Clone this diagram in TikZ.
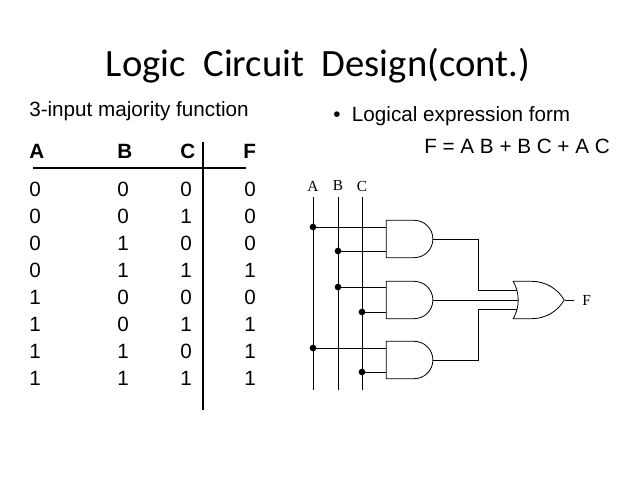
\documentclass[tikz,border=0pt]{standalone}
\usepackage{fontspec}
\setmainfont{Liberation Sans}
\newfontfamily\titlefont{Carlito}
\newfontfamily\serif{Liberation Serif}
\usetikzlibrary{shapes.gates.logic.US}
\begin{document}
\begin{tikzpicture}[x=0.75pt,y=-0.75pt,
  txt/.style={inner sep=0,anchor=west,font=\fontsize{15.5}{17}\selectfont},
  hd/.style={txt,font=\fontsize{15.5}{17}\selectfont\bfseries},
  w/.style={line width=0.6pt},
  dot/.style={circle,fill,inner sep=0,minimum size=5pt},
  gt/.style={draw,line width=0.6pt,minimum width=30pt,minimum height=28pt,inner sep=0},
  lbl/.style={font=\serif\fontsize{11.5}{13}\selectfont,inner sep=0}]
\useasboundingbox (0,0) rectangle (638,478);
\node (title) at (318,66) {\titlefont\fontsize{29}{32}\selectfont Logic\ \ Circuit\ \ Design(cont.)};
\node[txt] (sub) at (29,111) {3-input majority function};
\node[txt] (bul) at (333,116) {\textbullet\ \ Logical expression form};
\node[txt] (expr) at (424,146) {F = A B + B C + A C};
% table
\node[hd] (hA) at (29,151) {A};
\node[hd] (hB) at (117,151) {B};
\node[hd] (hC) at (180,151) {C};
\node[hd] (hF) at (243,151) {F};
\coordinate (l1) at (33,168); \coordinate (l2) at (246,168);
\coordinate (v1) at (203,142); \coordinate (v2) at (203,410);
\draw[line width=1.4pt] (l1) -- (l2);
\draw[line width=1.4pt] (v1) -- (v2);
\foreach \a/\b/\c/\f [count=\i from 0] in {0/0/0/0,0/0/1/0,0/1/0/0,0/1/1/1,1/0/0/0,1/0/1/1,1/1/0/1,1/1/1/1}{
  \node[txt] (ra\i) at (29,{189+27*\i}) {\a};
  \node[txt] (rb\i) at (117,{189+27*\i}) {\b};
  \node[txt] (rc\i) at (180,{189+27*\i}) {\c};
  \node[txt] (rf\i) at (244,{189+27*\i}) {\f};
}
% circuit
\node[lbl] (LA) at (313,186) {A};
\node[lbl] (LB) at (338,186) {B};
\node[lbl] (LC) at (362,186) {C};
\foreach \n/\x in {A/313,B/338,C/362}{
  \coordinate (t\n) at (\x,197); \coordinate (b\n) at (\x,390);
  \draw[w] (t\n) -- (b\n);
}
\node[and gate US,gt] (g1) at (408,239) {};
\node[and gate US,gt] (g2) at (408,300) {};
\node[and gate US,gt] (g3) at (408,360) {};
\node[or gate US,gt,logic gate inputs=nnn] (g4) at (535,300) {};
\coordinate (d1) at (313,227); \coordinate (d2) at (338,251);
\coordinate (d3) at (338,287); \coordinate (d4) at (362,312);
\coordinate (d5) at (313,348); \coordinate (d6) at (362,372);
\node[dot] at (d1) {};\node[dot] at (d2) {};\node[dot] at (d3) {};
\node[dot] at (d4) {};\node[dot] at (d5) {};\node[dot] at (d6) {};
\draw[w] (d1) -- (d1 -| g1.input 1);
\draw[w] (d2) -- (d2 -| g1.input 2);
\draw[w] (d3) -- (d3 -| g2.input 1);
\draw[w] (d4) -- (d4 -| g2.input 2);
\draw[w] (d5) -- (d5 -| g3.input 1);
\draw[w] (d6) -- (d6 -| g3.input 2);
\coordinate (k1) at (478,0);
\draw[w] (g1.output) -| (k1 |- g4.input 1) -- (g4.input 1);
\draw[w] (g2.output) -- (g4.input 2);
\draw[w] (g3.output) -| (k1 |- g4.input 3) -- (g4.input 3);
\node[lbl,anchor=west] (F) at (582,300) {F};
\draw[w] (g4.output) -- ([xshift=-6pt]F.west);
\end{tikzpicture}
\end{document}
